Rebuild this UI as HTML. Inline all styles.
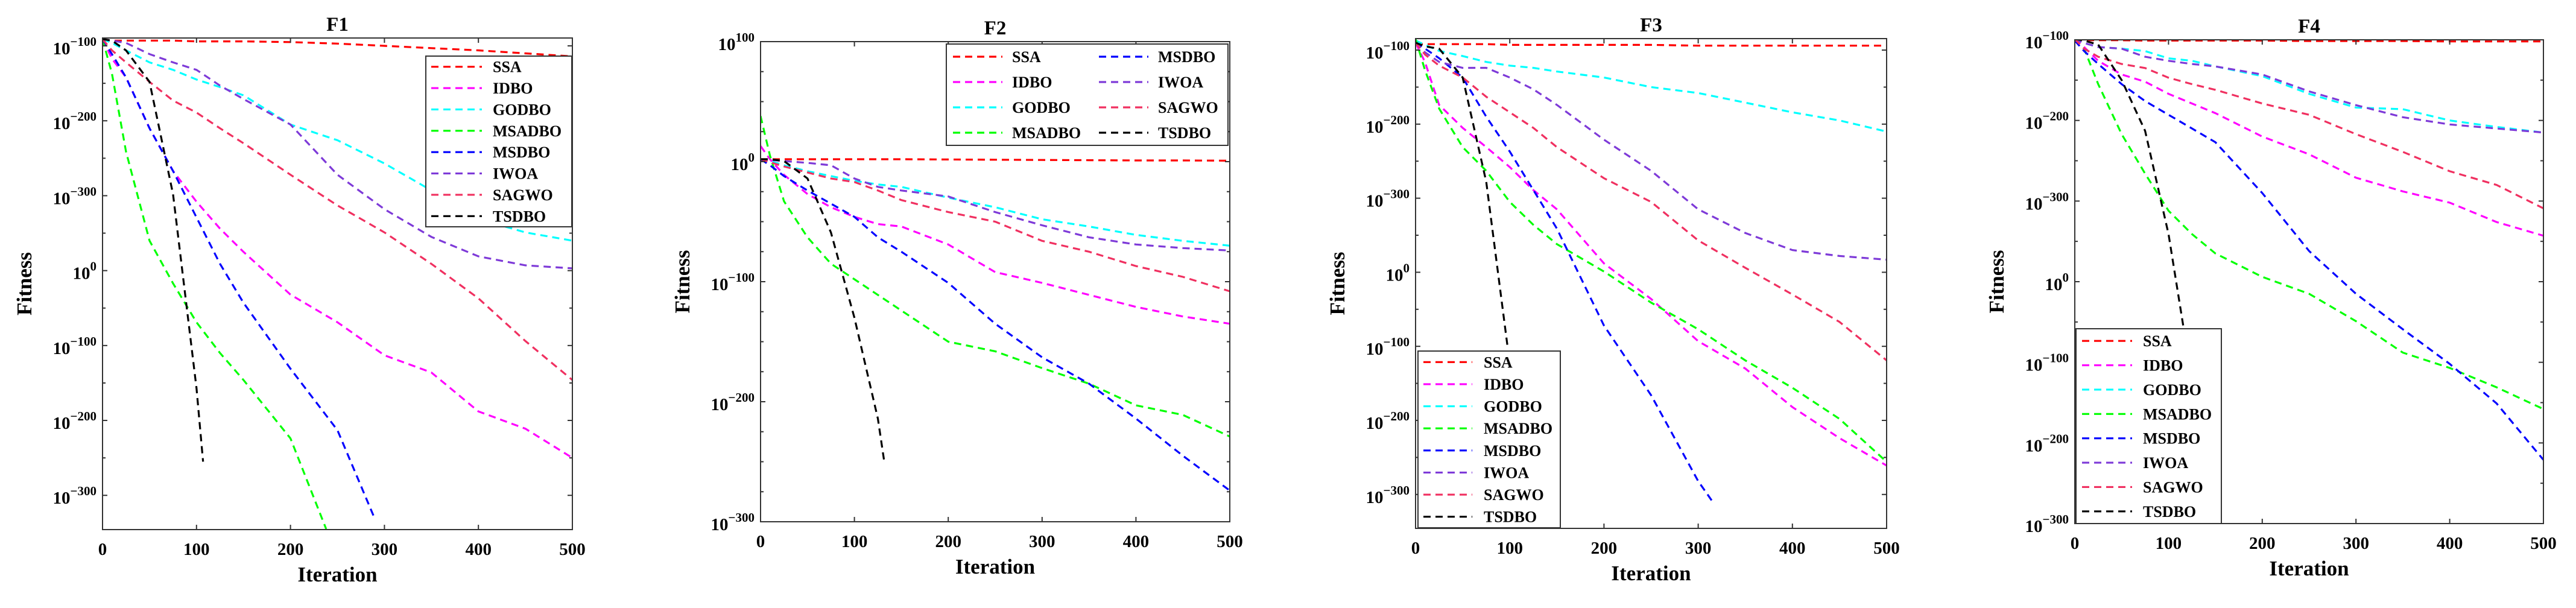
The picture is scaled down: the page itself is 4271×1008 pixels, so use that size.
<!DOCTYPE html>
<html><head><meta charset="utf-8">
<style>
html,body{margin:0;padding:0;background:#fff;}
svg{display:block;font-family:"Liberation Serif","Times New Roman",serif;font-weight:bold;}
</style></head>
<body>
<svg id="chart" width="4271" height="1008" viewBox="0 0 4271 1008" xmlns="http://www.w3.org/2000/svg"></svg>
<script>
// ---- shared data ----
const iterGrid = [0,10,25,50,75,100,125,150,200,250,300,350,400,450];
const seriesNames = ["SSA","IDBO","GODBO","MSADBO","MSDBO","IWOA","SAGWO","TSDBO"];
const seriesColors = ["#ff0000","#ff00ff","#00ffff","#00ff00","#0000ff","#7e3ad8","#f03060","#000000"];
const xTicks = [0,100,200,300,400,500];

// ---- F1 (log10 fitness) ----
const f1SSA    = [-93,-93,-93,-93,-93,-94,-94,-94,-95,-97,-100,-103,-106,-110];
const f1IDBO   = [-91,-117,-142,-210,-267,-308,-344,-375,-432,-469,-513,-536,-588,-611];
const f1GODBO  = [-91,-96,-106,-122,-132,-145,-155,-166,-205,-226,-257,-293,-331,-349];
const f1MSADBO = [-91,-137,-241,-360,-417,-469,-510,-546,-624];
const f1MSDBO  = [-91,-111,-142,-210,-267,-329,-391,-443,-531,-613];
const f1IWOA   = [-91,-93,-96,-111,-122,-132,-153,-171,-205,-272,-318,-355,-381,-393];
const f1SAGWO  = [-91,-106,-122,-148,-173,-189,-210,-230,-272,-313,-349,-391,-437,-494];
const f1TSDBO  = [-91,-93,-106,-148,-298,-557];
const f1EndIter = [500,500,500,238,290,500,500,107];
const f1EndVal  = [-114,-650,-360,-745,-732,-397,-546,-655];
const f1TickVals = [-100,-200,-300,-400,-500,-600,-700];
const f1TickLabels = ["-100","-200","-300","0","-100","-200","-300"];

// ---- F2 ----
const f2SSA    = [2,2,2,2,2,2,2,2,1.8,1.6,1.4,1.2,1,1];
const f2IDBO   = [13,2,-11,-27,-38,-46,-52,-54,-69,-92,-101,-111,-121,-129];
const f2GODBO  = [2,0.5,-3,-8,-12,-16,-19,-21,-30,-38,-48,-54,-61,-66];
const f2MSADBO = [38,5,-33,-63,-85,-98,-111,-124,-150,-158,-172,-185,-203,-211];
const f2MSDBO  = [2,-3,-12,-24,-35,-46,-63,-75,-101,-135,-163,-185,-214,-245];
const f2IWOA   = [2,1.5,0.5,-1,-3,-14,-21,-24,-29,-42,-53,-63,-69,-72];
const f2SAGWO  = [2,-0.5,-4,-9,-14,-17,-24,-32,-42,-50,-66,-75,-87,-96];
const f2TSDBO  = [2,2,0.5,-14,-59,-130,-214];
const f2EndIter = [500,500,500,500,500,500,500,132];
const f2EndVal  = [0.8,-135,-70,-229,-274,-74,-108,-251];
const f2TickVals = [100,0,-100,-200,-300];
const f2TickLabels = ["100","0","-100","-200","-300"];

// ---- F3 ----
const f3SSA    = [-92,-92,-92,-92,-92,-93,-93,-93,-93,-93,-94,-94,-94,-94];
const f3IDBO   = [-90,-116,-174,-205,-231,-258,-289,-315,-388,-436,-493,-530,-582,-624];
const f3GODBO  = [-87,-93,-101,-108,-116,-121,-124,-129,-137,-150,-158,-171,-184,-195];
const f3MSADBO = [-85,-127,-179,-231,-263,-305,-336,-362,-399,-441,-477,-519,-556,-598];
const f3MSDBO  = [-90,-98,-111,-137,-190,-237,-289,-341,-472,-566,-682];
const f3IWOA   = [-90,-103,-116,-124,-124,-137,-153,-174,-221,-263,-315,-347,-370,-378];
const f3SAGWO  = [-90,-106,-121,-137,-163,-184,-205,-231,-273,-305,-357,-394,-430,-467];
const f3TSDBO  = [-90,-95,-98,-137,-278];
const f3EndIter = [500,500,500,500,317,500,500,98];
const f3EndVal  = [-94,-661,-210,-656,-713,-383,-519,-504];
const f3TickVals = [-100,-200,-300,-400,-500,-600,-700];
const f3TickLabels = ["-100","-200","-300","0","-100","-200","-300"];

// ---- F4 ----
const f4SSA    = [-100.5,-100.5,-100.5,-100.5,-101,-101,-101,-101,-101,-101.5,-101.5,-101.5,-102,-102];
const f4IDBO   = [-99,-109,-126,-143,-152,-167,-179,-191,-220,-242,-271,-288,-302,-326];
const f4GODBO  = [-99,-104,-109,-111,-114,-123,-126,-133,-145,-167,-184,-186,-200,-208];
const f4MSADBO = [-99,-111,-155,-217,-266,-312,-341,-365,-394,-415,-449,-488,-507,-531];
const f4MSDBO  = [-101,-114,-130,-155,-176,-193,-210,-227,-290,-362,-415,-459,-502,-551];
const f4IWOA   = [-99,-104,-109,-111,-121,-126,-130,-133,-143,-164,-181,-196,-205,-210];
const f4SAGWO  = [-99,-111,-121,-130,-135,-147,-155,-162,-179,-193,-217,-239,-263,-280];
const f4TSDBO  = [-99,-101,-106,-150,-213,-341];
const f4EndIter = [500,500,500,500,500,500,500,116];
const f4EndVal  = [-102,-343,-215,-558,-621,-215,-309,-457];
const f4TickVals = [-100,-200,-300,-400,-500,-600,-700];
const f4TickLabels = ["-100","-200","-300","0","-100","-200","-300"];

// ---- layout (geometry only) ----
const panels = [
 {id:"f1",title:"F1",L:170,R:949,T:63,B:878,yTop:-89.5,yBot:-745.7,series:[f1SSA,f1IDBO,f1GODBO,f1MSADBO,f1MSDBO,f1IWOA,f1SAGWO,f1TSDBO],endI:f1EndIter,endV:f1EndVal,tv:f1TickVals,tl:f1TickLabels,minorDiv:2,
  leg:{x:706,y:93,w:242,h:283,cols:1,rowH:35.4,lineX:715,lineW:84,textX:817}},
 {id:"f2",title:"F2",L:1261,R:2039,T:69,B:865,yTop:100,yBot:-300,series:[f2SSA,f2IDBO,f2GODBO,f2MSADBO,f2MSDBO,f2IWOA,f2SAGWO,f2TSDBO],endI:f2EndIter,endV:f2EndVal,tv:f2TickVals,tl:f2TickLabels,minorDiv:4,
  leg:{x:1569,y:73,w:467,h:168,cols:2,rowH:40.5,lineX:1580,lineW:82,textX:1678,col2Dx:242}},
 {id:"f3",title:"F3",L:2347,R:3128,T:64,B:876,yTop:-84.5,yBot:-745.8,series:[f3SSA,f3IDBO,f3GODBO,f3MSADBO,f3MSDBO,f3IWOA,f3SAGWO,f3TSDBO],endI:f3EndIter,endV:f3EndVal,tv:f3TickVals,tl:f3TickLabels,minorDiv:2,
  leg:{x:2351,y:582,w:236,h:293,cols:1,rowH:35.8,lineX:2360,lineW:81,textX:2460}},
 {id:"f4",title:"F4",L:3440,R:4217,T:66,B:868,yTop:-100,yBot:-700,series:[f4SSA,f4IDBO,f4GODBO,f4MSADBO,f4MSDBO,f4IWOA,f4SAGWO,f4TSDBO],endI:f4EndIter,endV:f4EndVal,tv:f4TickVals,tl:f4TickLabels,minorDiv:2,
  leg:{x:3442,y:545,w:241,h:323,cols:1,rowH:39.3,lineX:3452,lineW:83,textX:3553}}
];

const NS="http://www.w3.org/2000/svg";
const svg=document.getElementById("chart");
function mk(tag,attrs,parent){const e=document.createElementNS(NS,tag);for(const k in attrs)e.setAttribute(k,attrs[k]);(parent||svg).appendChild(e);return e;}

panels.forEach(p=>{
  const g=mk("g",{});
  
  
  const xs=i=>p.L+(i/500)*(p.R-p.L);
  const ys=v=>p.T+(p.yTop-v)/(p.yTop-p.yBot)*(p.B-p.T);
  // clip
  const cp=mk("clipPath",{id:"clip-"+p.id},g);
  mk("rect",{x:p.L,y:p.T,width:p.R-p.L,height:p.B-p.T},cp);
  // title
  const t=mk("text",{x:(p.L+p.R)/2,y:p.T-12,"text-anchor":"middle","font-size":"33"},g);
  t.textContent=p.title;
  
  
  // series
  p.series.forEach((vals,si)=>{
    const pts=[];
    for(let k=0;k<vals.length;k++){ if(iterGrid[k]<p.endI[si]) pts.push([xs(iterGrid[k]),ys(vals[k])]); }
    pts.push([xs(p.endI[si]),ys(p.endV[si])]);
    const pl=mk("polyline",{points:pts.map(q=>q[0].toFixed(1)+","+q[1].toFixed(1)).join(" "),fill:"none",stroke:seriesColors[si],"stroke-width":"3.2","stroke-dasharray":"12,8","clip-path":"url(#clip-"+p.id+")"},g);
    
    
  });
  // axes box
  const box=mk("rect",{x:p.L,y:p.T,width:p.R-p.L,height:p.B-p.T,fill:"none",stroke:"#333","stroke-width":"2"},g);
  
  
  // x ticks
  xTicks.forEach(v=>{
    const x=xs(v);
    mk("line",{x1:x,y1:p.B,x2:x,y2:p.B-8,stroke:"#333","stroke-width":"2"},g);
    mk("line",{x1:x,y1:p.T,x2:x,y2:p.T+8,stroke:"#333","stroke-width":"2"},g);
    const tx=mk("text",{x:x,y:p.B+42,"text-anchor":"middle","font-size":"29"},g);
    tx.textContent=String(v);
    
    
  });
  // y ticks
  const step=p.tv[0]-p.tv[1];
  for(let v=p.tv[0]+step; v>=p.tv[p.tv.length-1]-step; v-=step/p.minorDiv){
    const y=ys(v); if(y<p.T-0.5||y>p.B+0.5) continue;
    const major=p.tv.indexOf(Math.round(v))>=0;
    const len=major?8:5;
    mk("line",{x1:p.L,y1:y,x2:p.L+len,y2:y,stroke:"#333","stroke-width":"2"},g);
    mk("line",{x1:p.R,y1:y,x2:p.R-len,y2:y,stroke:"#333","stroke-width":"2"},g);
  }
  p.tv.forEach((v,k)=>{
    const y=ys(v);
    const lab=mk("text",{x:p.L-10,y:y+14,"text-anchor":"end","font-size":"29"},g);
    const a=mk("tspan",{},lab); a.textContent="10";
    const b=mk("tspan",{dy:"-14","font-size":"21"},lab); b.textContent=p.tl[k].replace("-","\u2212");
    
    
  });
  // axis titles
  const xl=mk("text",{x:(p.L+p.R)/2,y:p.B+86,"text-anchor":"middle","font-size":"35"},g);
  xl.textContent="Iteration";
  
  
  const yx=p.L-118, yy=(p.T+p.B)/2;
  const yl=mk("text",{x:yx,y:yy,"text-anchor":"middle","font-size":"35",transform:"rotate(-90 "+yx+" "+yy+")"},g);
  yl.textContent="Fitness";
  
  
  // legend
  const L=p.leg;
  const lg=mk("g",{},g);
  
  
  mk("rect",{x:L.x,y:L.y,width:L.w,height:L.h,fill:"#fff",stroke:"#333","stroke-width":"2"},lg);
  seriesNames.forEach((n,si)=>{
    let row=si,dx=0;
    if(L.cols===2){row=si%4;dx=si>=4?L.col2Dx:0;}
    const cy=L.y+L.h/(L.cols===2?4:8)*(row+0.5);
    const e=mk("g",{},lg);
    
    
    mk("line",{x1:L.lineX+dx,y1:cy,x2:L.lineX+dx+L.lineW,y2:cy,stroke:seriesColors[si],"stroke-width":"3.2","stroke-dasharray":"12,8"},e);
    const tt=mk("text",{x:L.textX+dx,y:cy+9,"font-size":"26"},e);
    tt.textContent=n;
  });
});
</script>
</body></html>
